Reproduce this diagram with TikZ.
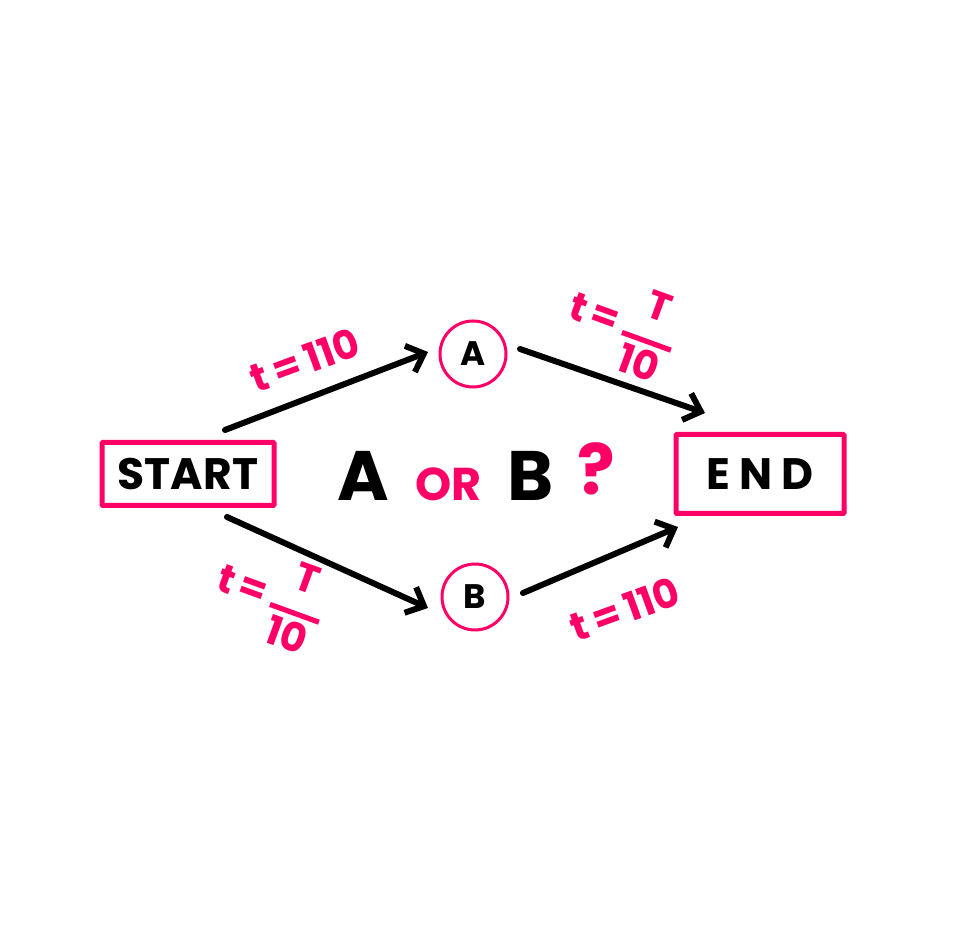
\documentclass[tikz,border=0pt]{standalone}
\usepackage{fontspec}
\setmainfont{Poppins}
\usepackage{tikz}
\usetikzlibrary{arrows.meta}

\definecolor{hotpink}{RGB}{255,0,102}

\tikzset{
    box/.style={draw=hotpink, line width=5pt, rounded corners=1pt, font=\fontsize{44}{48}\selectfont\bfseries},
    place/.style={circle, draw=hotpink, line width=3pt, minimum size=66pt, inner sep=0pt, font=\fontsize{34}{38}\selectfont\bfseries},
    link/.style={line width=6pt, line cap=round, line join=round, -{Straight Barb[length=15pt, width=28pt, line width=6pt]}},
    cost/.style={text=hotpink, font=\fontsize{40}{42}\selectfont\bfseries, inner sep=0pt}
}

\newcommand{\fracTten}{\begin{tabular}[c]{@{}c@{}}T\\[-0.4em]\rule{1.3em}{0.13em}\\[-0.2em]10\end{tabular}}

\begin{document}
\begin{tikzpicture}[x=1pt, y=1pt]
        \useasboundingbox (0,0) rectangle (964,952);

        % Nodes
        \node[box, minimum width=172pt, minimum height=63pt] (start) at (188, 478) {START};
        \node[box, minimum width=168pt, minimum height=79pt] (end) at (760, 478) {\addfontfeature{LetterSpace=20}END\hspace{-8pt}};
        \node[place] (a) at (473, 598) {A};
        \node[place] (b) at (475, 355) {B};

        % Question
        \node[inner sep=0pt] (question) at (476, 480) {\fontsize{70}{74}\selectfont\bfseries A\,
            {\color{hotpink}\fontsize{46}{48}\selectfont OR}\,
            B\,\,{\color{hotpink}\raisebox{6pt}{?}}};

        % Lines
        \draw[link] ([shift={(37,44)}]start.center) -- ([shift={(-45,2)}]a.center);
        \draw[link] ([shift={(47,5)}]a.center) -- ([shift={(-55,61)}]end.center);
        \draw[link] ([shift={(39,-43)}]start.center) -- ([shift={(-47,-11)}]b.center);
        \draw[link] ([shift={(48,4)}]b.center) -- ([shift={(-82,-53)}]end.center);

        % Labels
        \node[cost, rotate=20] (costsa) at (305, 592) {t\,=\,110};
        \node[cost, rotate=-20] (costae) at (620, 622) {t\,=\,\fracTten};
        \node[cost, rotate=-20] (costsb) at (268, 350) {t\,=\,\fracTten};
        \node[cost, rotate=20] (costbe) at (625, 343) {t\,=\,110};
    \end{tikzpicture}
\end{document}
